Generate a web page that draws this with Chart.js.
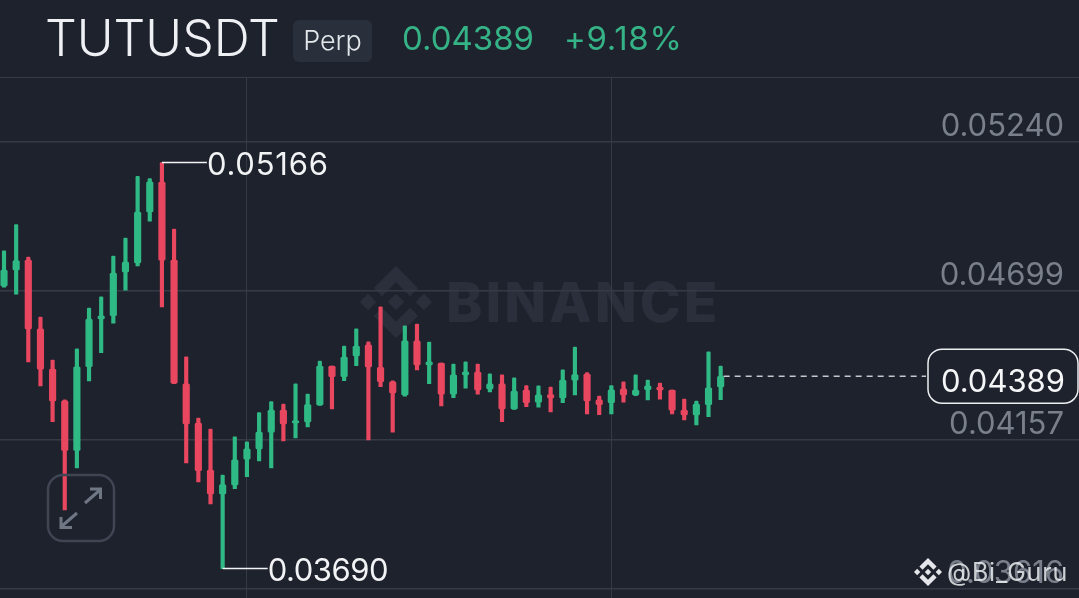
<!DOCTYPE html>
<html>
<head>
<meta charset="utf-8">
<title>TUTUSDT Perp</title>
<script src="https://cdn.jsdelivr.net/npm/chart.js@4/dist/chart.umd.min.js"></script>
<style>
  html, body { margin: 0; padding: 0; background: #1e222d; overflow: hidden; }
  #wrap { position: relative; width: 1079px; height: 598px; font-family: Inter, sans-serif; }
  #wrap > * { position: absolute; }
  canvas { left: 0; top: 0; }
  .head { white-space: nowrap; }
  #symbol { left: 45px; top: 8px; font-size: 50px; line-height: 60px; font-weight: 300; color: #eef0f4; }
  #badge { left: 293px; top: 20px; width: 79px; height: 42px; line-height: 42px; background: #2a303b; border-radius: 6px; text-align: center; font-size: 27px; font-weight: 300; color: #e3e6ea; }
  #last { left: 402px; top: 18px; font-size: 33px; line-height: 40px; font-weight: 400; color: #35b386; }
  #change { left: 564px; top: 18px; font-size: 33px; line-height: 40px; font-weight: 400; letter-spacing: 0.7px; color: #35b386; }
  #sep { left: 0; top: 77px; width: 1079px; height: 1px; background: #343a46; }
  #wmLogo { left: 360px; top: 266px; width: 72px; height: 72px; fill: #2a2f3b; }
  #wmText { left: 446px; top: 268px; font-size: 55px; line-height: 68px; font-weight: 800; letter-spacing: 3px; color: #2a2f3b; }
  #expand { left: 45px; top: 472px; width: 72px; height: 72px; }
  #byLogo { left: 914px; top: 558px; width: 28px; height: 28px; fill: #e4e6ea; }
  #byText { left: 947px; top: 558px; font-size: 25px; line-height: 28px; letter-spacing: 0.8px; color: rgba(235,237,240,0.85); }
</style>
</head>
<body>
<div id="wrap">
  <svg id="wmLogo" viewBox="0 0 126.61 126.61"><path d="M38.73 53.2l24.59-24.58 24.6 24.6 14.3-14.31L63.32 0 24.42 38.9zM0 63.31l14.3-14.31 14.31 14.31-14.31 14.3zM38.73 73.41l24.59 24.59 24.6-24.6 14.31 14.29-38.9 38.91-38.91-38.88zM98 63.31l14.3-14.31 14.31 14.3-14.3 14.32z"/><path d="M77.83 63.3L63.32 48.78 52.59 59.51l-1.24 1.23-2.54 2.54 14.51 14.5 14.51-14.47z"/></svg>
  <div id="wmText" class="head">BINANCE</div>
  <canvas id="chart" width="1079" height="598"></canvas>
  <div id="sep"></div>
  <div id="symbol" class="head">TUTUSDT</div>
  <div id="badge" class="head">Perp</div>
  <div id="last" class="head">0.04389</div>
  <div id="change" class="head">+9.18%</div>
  <svg id="expand" viewBox="0 0 72 72" fill="none">
    <rect x="3" y="3" width="66" height="66" rx="15" stroke="#3f4552" stroke-width="2.5"/>
    <g stroke="#6f7684" stroke-width="3">
      <path d="M40 31L55 18M45 17H55.5V27"/>
      <path d="M32 41L17 54M16 45V55.5H27"/>
    </g>
  </svg>
  <svg id="byLogo" viewBox="0 0 126.61 126.61"><path d="M38.73 53.2l24.59-24.58 24.6 24.6 14.3-14.31L63.32 0 24.42 38.9zM0 63.31l14.3-14.31 14.31 14.31-14.31 14.3zM38.73 73.41l24.59 24.59 24.6-24.6 14.31 14.29-38.9 38.91-38.91-38.88zM98 63.31l14.3-14.31 14.31 14.3-14.3 14.32z"/><path d="M77.83 63.3L63.32 48.78 52.59 59.51l-1.24 1.23-2.54 2.54 14.51 14.5 14.51-14.47z"/></svg>
  <div id="byText" class="head">@Bi_Guru</div>
</div>

<script>
const opens = [0.04717, 0.04775, 0.04811, 0.04561, 0.04415, 0.04300, 0.04119, 0.04424, 0.04597, 0.04609,
  0.04768, 0.04801, 0.04986, 0.05095, 0.04811, 0.04361, 0.04219, 0.04048, 0.03961, 0.03994,
  0.04088, 0.04125, 0.04186, 0.04266, 0.04219, 0.04223, 0.04285, 0.04426, 0.04387, 0.04463,
  0.04503, 0.04421, 0.04369, 0.04321, 0.04518, 0.04430, 0.04437, 0.04324, 0.04394, 0.04404,
  0.04343, 0.04361, 0.04270, 0.04339, 0.04295, 0.04322, 0.04310, 0.04375, 0.04397, 0.04303,
  0.04293, 0.04343, 0.04321, 0.04340, 0.04350, 0.04339, 0.04266, 0.04248, 0.04286, 0.04350];
const highs = [0.04845, 0.04940, 0.04822, 0.04604, 0.04448, 0.04303, 0.04489, 0.04637, 0.04678, 0.04826,
  0.04891, 0.05116, 0.05107, 0.05166, 0.04924, 0.04460, 0.04237, 0.04197, 0.04030, 0.04169,
  0.04151, 0.04257, 0.04297, 0.04288, 0.04361, 0.04324, 0.04444, 0.04426, 0.04499, 0.04561,
  0.04514, 0.04641, 0.04372, 0.04572, 0.04579, 0.04513, 0.04437, 0.04433, 0.04441, 0.04433,
  0.04398, 0.04394, 0.04383, 0.04355, 0.04354, 0.04350, 0.04412, 0.04495, 0.04402, 0.04317,
  0.04355, 0.04369, 0.04394, 0.04375, 0.04364, 0.04339, 0.04306, 0.04299, 0.04478, 0.04426];
const lows = [0.04713, 0.04687, 0.04441, 0.04354, 0.04224, 0.03903, 0.04056, 0.04372, 0.04475, 0.04582,
  0.04702, 0.04790, 0.04953, 0.04641, 0.04362, 0.04074, 0.04005, 0.03925, 0.03690, 0.03980,
  0.04024, 0.04081, 0.04056, 0.04154, 0.04165, 0.04205, 0.04283, 0.04270, 0.04373, 0.04427,
  0.04158, 0.04351, 0.04186, 0.04317, 0.04412, 0.04362, 0.04281, 0.04311, 0.04346, 0.04324,
  0.04332, 0.04224, 0.04268, 0.04278, 0.04277, 0.04259, 0.04293, 0.04321, 0.04252, 0.04249,
  0.04252, 0.04295, 0.04318, 0.04303, 0.04306, 0.04252, 0.04230, 0.04212, 0.04242, 0.04304];
const closes = [0.04775, 0.04809, 0.04561, 0.04415, 0.04299, 0.04119, 0.04423, 0.04597, 0.04609, 0.04764,
  0.04804, 0.04986, 0.05096, 0.04811, 0.04364, 0.04216, 0.04046, 0.03961, 0.03995, 0.04085,
  0.04125, 0.04186, 0.04266, 0.04216, 0.04227, 0.04286, 0.04426, 0.04387, 0.04459, 0.04499,
  0.04423, 0.04369, 0.04328, 0.04518, 0.04430, 0.04441, 0.04324, 0.04394, 0.04404, 0.04339,
  0.04361, 0.04270, 0.04335, 0.04293, 0.04321, 0.04310, 0.04375, 0.04395, 0.04299, 0.04286,
  0.04340, 0.04321, 0.04339, 0.04354, 0.04339, 0.04266, 0.04248, 0.04288, 0.04347, 0.04389];

const priceTicks = [0.05240, 0.04699, 0.04157, 0.03616];
const timeTicks = [20, 50];
const lastPrice = 0.04389;
const highMark = { index: 13, price: 0.05166 };
const lowMark = { index: 18, price: 0.03690 };

const GREEN = '#2fb985';
const RED = '#e8475f';
const BG = '#1e222d';
const GRID = '#343a46';
const FONT = 'Inter, sans-serif';

const colors = opens.map((o, i) => closes[i] >= o ? GREEN : RED);

// min / max marks and the last price tag
const overlay = {
    id: 'overlay',
    afterDatasetsDraw(chart) {
        const { ctx, scales: { x, y } } = chart;
        ctx.save();
        ctx.font = '400 31px ' + FONT;
        ctx.textBaseline = 'middle';
        ctx.fillStyle = '#f2f3f5';
        ctx.strokeStyle = '#f2f3f5';
        ctx.lineWidth = 1.5;
        [highMark, lowMark].forEach(m => {
            const px = x.getPixelForValue(m.index);
            const py = y.getPixelForValue(m.price);
            const label = m.price.toFixed(5);
            ctx.beginPath();
            ctx.moveTo(px, py);
            ctx.lineTo(px + 45, py);
            ctx.stroke();
            // the digit 1 is narrow in this font, open the label up to the usual width
            ctx.letterSpacing = '0px';
            ctx.letterSpacing = ((121 - ctx.measureText(label).width) / 6) + 'px';
            ctx.fillText(label, px + 45, py + 3);
        });
        ctx.letterSpacing = '0px';

        const ly = y.getPixelForValue(lastPrice);
        const lx = x.getPixelForValue(opens.length - 1);
        ctx.strokeStyle = '#c4c7cc';
        ctx.setLineDash([6, 5]);
        ctx.beginPath();
        ctx.moveTo(lx + 3, ly);
        ctx.lineTo(926, ly);
        ctx.stroke();
        ctx.setLineDash([]);

        ctx.fillStyle = BG;
        ctx.strokeStyle = '#eceef0';
        ctx.beginPath();
        ctx.roundRect(928, ly - 27, 150, 54, 14);
        ctx.fill();
        ctx.stroke();
        ctx.fillStyle = '#f5f6f7';
        ctx.textAlign = 'right';
        ctx.fillText(lastPrice.toFixed(5), 1065, ly + 6);
        ctx.restore();
    }
};

new Chart(document.getElementById('chart'), {
    type: 'bar',
    data: {
        datasets: [
            {
                data: lows.map((l, i) => ({ x: i, y: [l, highs[i]] })),
                backgroundColor: colors,
                barThickness: 3.5,
                borderRadius: 1
            },
            {
                data: opens.map((o, i) => ({ x: i, y: [o, closes[i]] })),
                backgroundColor: colors,
                barThickness: 6.5,
                borderRadius: 1.5,
                borderSkipped: false
            }
        ]
    },
    options: {
        responsive: false,
        animation: false,
        grouped: false,
        layout: { padding: { top: 78, left: 0, right: 0, bottom: 0 } },
        plugins: { legend: { display: false }, tooltip: { enabled: false } },
        scales: {
            x: {
                type: 'linear',
                offset: false,
                min: -0.33,
                max: 88.5,
                afterBuildTicks: axis => { axis.ticks = timeTicks.map(v => ({ value: v })); },
                afterFit: axis => { axis.height = 0; axis.paddingLeft = 0; axis.paddingRight = 0; },
                border: { display: false },
                grid: { offset: false, color: GRID, lineWidth: 1, drawTicks: false },
                ticks: { display: false }
            },
            y: {
                position: 'right',
                min: 0.03583,
                max: 0.05473,
                afterBuildTicks: axis => { axis.ticks = priceTicks.map(v => ({ value: v })); },
                afterFit: axis => { axis.width = 0; axis.paddingTop = 0; axis.paddingBottom = 0; },
                border: { display: false },
                grid: { color: GRID, lineWidth: 1.5, drawTicks: false },
                ticks: {
                    mirror: true,
                    padding: -15,
                    labelOffset: -15,
                    color: '#7a808b',
                    font: { family: FONT, size: 31, weight: '400' },
                    callback: v => v.toFixed(5)
                }
            }
        }
    },
    plugins: [overlay]
});
</script>
</body>
</html>
